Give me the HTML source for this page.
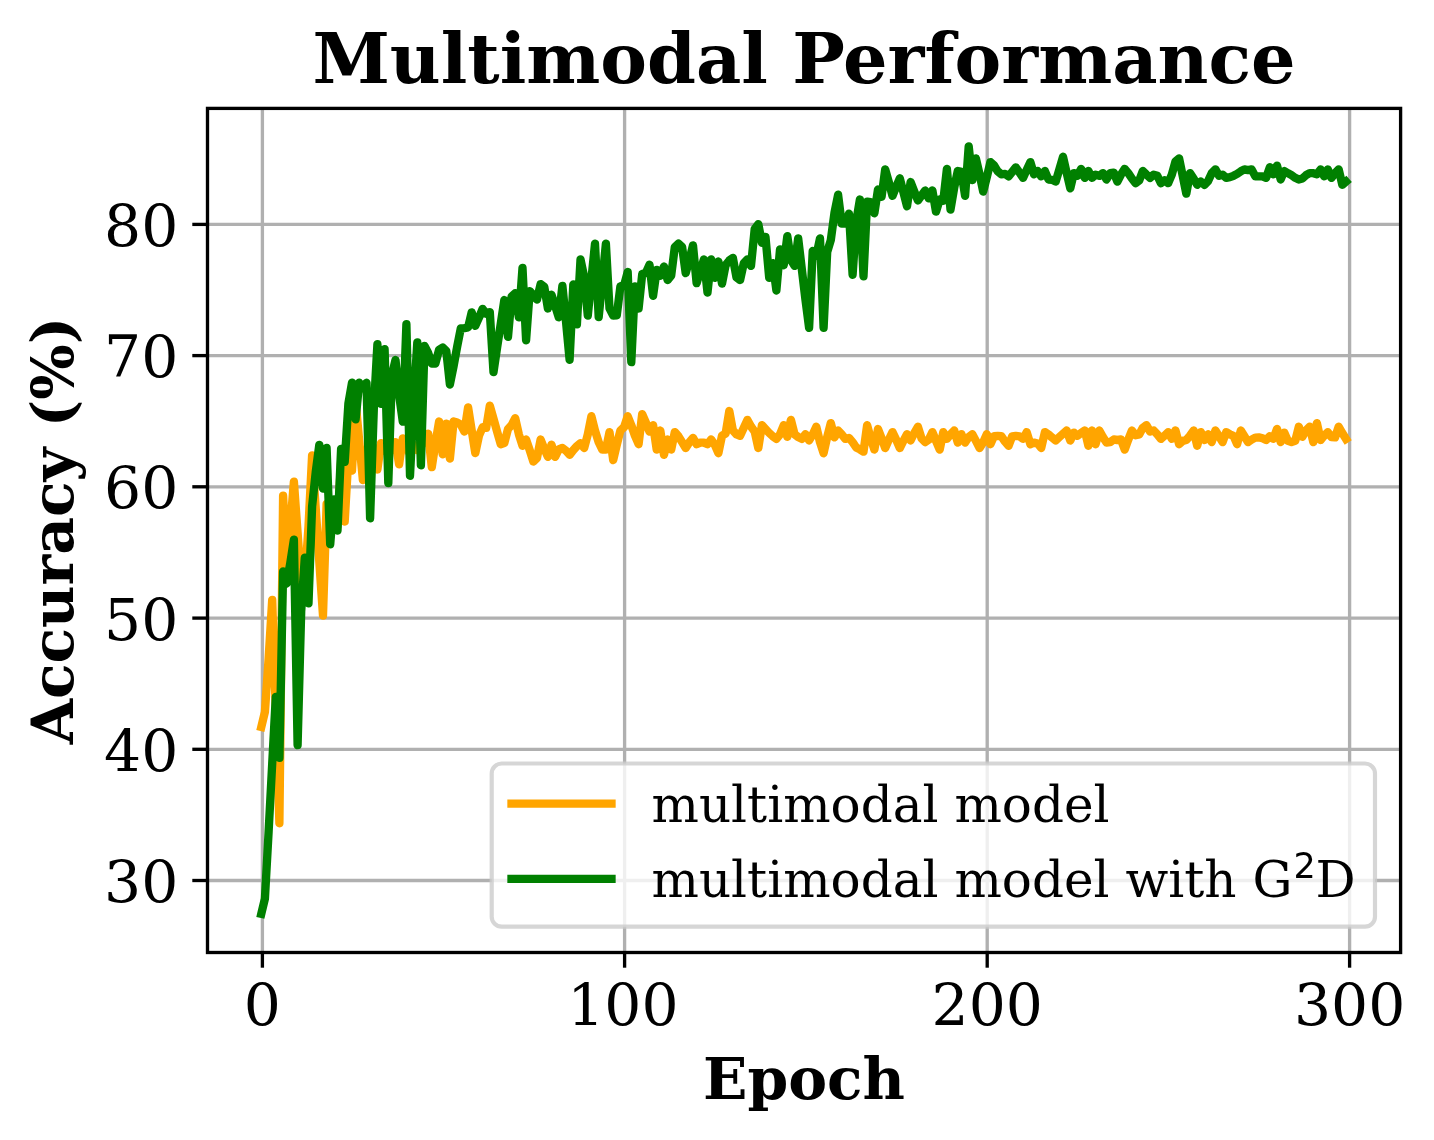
<!DOCTYPE html>
<html lang="en"><head><meta charset="utf-8"><title>Multimodal Performance</title>
<style>html,body{margin:0;padding:0;background:#fff}svg{display:block}text{font-family:"DejaVu Serif","Liberation Serif",serif;fill:#000}</style></head><body>
<svg width="1434" height="1140" viewBox="0 0 1434 1140">
<rect width="1434" height="1140" fill="#fff"/>
<g stroke="#b0b0b0" stroke-width="3.33"><line x1="262.4" x2="262.4" y1="108.4" y2="952.5"/><line x1="624.6" x2="624.6" y1="108.4" y2="952.5"/><line x1="987.2" x2="987.2" y1="108.4" y2="952.5"/><line x1="1349.6" x2="1349.6" y1="108.4" y2="952.5"/><line x1="207.5" x2="1400.6" y1="880.5" y2="880.5"/><line x1="207.5" x2="1400.6" y1="749.3" y2="749.3"/><line x1="207.5" x2="1400.6" y1="618.1" y2="618.1"/><line x1="207.5" x2="1400.6" y1="486.8" y2="486.8"/><line x1="207.5" x2="1400.6" y1="355.6" y2="355.6"/><line x1="207.5" x2="1400.6" y1="224.4" y2="224.4"/></g>
<g stroke="#000" stroke-width="3.33"><line x1="262.4" x2="262.4" y1="952.5" y2="967.7"/><line x1="624.6" x2="624.6" y1="952.5" y2="967.7"/><line x1="987.2" x2="987.2" y1="952.5" y2="967.7"/><line x1="1349.6" x2="1349.6" y1="952.5" y2="967.7"/><line x1="192.3" x2="207.5" y1="880.5" y2="880.5"/><line x1="192.3" x2="207.5" y1="749.3" y2="749.3"/><line x1="192.3" x2="207.5" y1="618.1" y2="618.1"/><line x1="192.3" x2="207.5" y1="486.8" y2="486.8"/><line x1="192.3" x2="207.5" y1="355.6" y2="355.6"/><line x1="192.3" x2="207.5" y1="224.4" y2="224.4"/></g>
<clipPath id="c"><rect x="207.5" y="108.4" width="1193.1" height="844.1"/></clipPath>
<g clip-path="url(#c)" fill="none" stroke-linejoin="round" stroke-linecap="square" stroke-width="8.33">
<path stroke="#ffa500" d="M261.3 727.0 L264.9 712.1 L268.6 658.7 L272.2 599.8 L275.8 711.2 L279.4 823.3 L283.1 495.6 L286.7 565.6 L290.3 526.2 L293.9 481.6 L297.6 532.8 L301.2 583.9 L304.8 581.3 L308.5 526.2 L312.1 455.3 L315.7 507.8 L319.3 561.6 L323.0 615.7 L326.6 503.9 L330.2 526.2 L333.9 513.1 L337.5 526.2 L341.1 460.6 L344.7 521.6 L348.4 456.7 L352.0 470.6 L355.6 401.5 L359.2 440.9 L362.9 480.0 L366.5 450.1 L370.1 444.8 L373.8 447.5 L377.4 469.5 L381.0 443.1 L384.6 448.8 L388.3 454.0 L391.9 447.5 L395.5 442.1 L399.1 464.3 L402.8 438.4 L406.4 447.5 L410.0 454.0 L413.7 444.8 L417.3 450.1 L420.9 444.8 L424.5 442.2 L428.2 433.7 L431.8 467.2 L435.4 443.5 L439.1 421.5 L442.7 454.3 L446.3 423.6 L449.9 458.5 L453.6 421.5 L457.2 422.5 L460.8 424.6 L464.4 431.6 L468.1 407.3 L471.7 430.4 L475.3 453.2 L479.0 435.7 L482.6 427.3 L486.2 427.8 L489.8 405.7 L493.5 418.6 L497.1 431.7 L500.7 444.2 L504.3 443.1 L508.0 429.0 L511.6 425.2 L515.2 418.3 L518.9 434.4 L522.5 445.8 L526.1 439.5 L529.7 450.1 L533.4 461.6 L537.0 458.0 L540.6 439.5 L544.3 448.8 L547.9 456.9 L551.5 444.7 L555.1 456.9 L558.8 449.4 L562.4 447.9 L566.0 450.8 L569.6 454.8 L573.3 450.1 L576.9 446.2 L580.5 443.1 L584.2 448.0 L587.8 434.4 L591.4 416.2 L595.0 430.4 L598.7 442.2 L602.3 449.6 L605.9 449.6 L609.5 432.1 L613.2 460.1 L616.8 444.8 L620.4 430.5 L624.1 427.1 L627.7 416.2 L631.3 425.2 L634.9 435.7 L638.6 444.2 L642.2 414.1 L645.8 422.5 L649.5 431.6 L653.1 425.2 L656.7 449.6 L660.3 430.5 L664.0 454.8 L667.6 439.5 L671.2 449.6 L674.8 432.1 L678.5 436.3 L682.1 442.2 L685.7 448.0 L689.4 442.2 L693.0 437.9 L696.6 444.2 L700.2 442.6 L703.9 442.6 L707.5 444.2 L711.1 439.5 L714.8 444.8 L718.4 453.2 L722.0 435.7 L725.6 433.7 L729.3 411.0 L732.9 430.4 L736.5 434.4 L740.1 435.8 L743.8 427.8 L747.4 419.9 L751.0 426.5 L754.7 431.7 L758.3 448.0 L761.9 425.2 L765.5 429.1 L769.2 433.0 L772.8 436.3 L776.4 438.9 L780.0 434.4 L783.7 425.2 L787.3 436.8 L790.9 419.9 L794.6 434.4 L798.2 437.0 L801.8 438.9 L805.4 434.2 L809.1 440.5 L812.7 434.4 L816.3 426.7 L820.0 442.2 L823.6 453.2 L827.2 437.0 L830.8 423.1 L834.5 437.4 L838.1 430.5 L841.7 434.4 L845.3 438.9 L849.0 437.9 L852.6 442.2 L856.2 447.5 L859.9 449.4 L863.5 451.7 L867.1 425.2 L870.7 438.3 L874.4 449.6 L878.0 429.0 L881.6 438.3 L885.2 448.0 L888.9 439.6 L892.5 432.1 L896.1 439.6 L899.8 448.0 L903.4 440.9 L907.0 434.2 L910.6 440.5 L914.3 433.0 L917.9 426.7 L921.5 438.3 L925.2 442.1 L928.8 439.6 L932.4 432.1 L936.0 440.9 L939.7 449.6 L943.3 432.1 L946.9 438.9 L950.5 434.4 L954.2 430.5 L957.8 442.6 L961.4 434.2 L965.1 442.6 L968.7 437.0 L972.3 434.2 L975.9 440.9 L979.6 448.0 L983.2 442.2 L986.8 434.2 L990.4 444.2 L994.1 436.1 L997.7 435.8 L1001.3 436.1 L1005.0 441.6 L1008.6 445.8 L1012.2 436.3 L1015.8 435.8 L1019.5 436.3 L1023.1 438.9 L1026.7 432.1 L1030.4 444.2 L1034.0 442.6 L1037.6 443.5 L1041.2 448.0 L1044.9 432.1 L1048.5 434.4 L1052.1 437.6 L1055.7 440.5 L1059.4 437.0 L1063.0 433.7 L1066.6 430.5 L1070.3 440.5 L1073.9 432.6 L1077.5 435.8 L1081.1 433.0 L1084.8 430.5 L1088.4 445.8 L1092.0 430.5 L1095.6 444.2 L1099.3 430.5 L1102.9 437.0 L1106.5 442.6 L1110.2 442.2 L1113.8 439.5 L1117.4 440.0 L1121.0 439.5 L1124.7 449.6 L1128.3 439.6 L1131.9 430.5 L1135.6 435.3 L1139.2 434.4 L1142.8 427.8 L1146.4 425.2 L1150.1 431.6 L1153.7 430.5 L1157.3 434.4 L1160.9 438.9 L1164.6 435.7 L1168.2 432.1 L1171.8 438.9 L1175.5 430.5 L1179.1 444.2 L1182.7 440.9 L1186.3 440.0 L1190.0 435.7 L1193.6 430.5 L1197.2 445.8 L1200.8 432.1 L1204.5 440.0 L1208.1 434.2 L1211.7 442.1 L1215.4 430.5 L1219.0 436.3 L1222.6 442.1 L1226.2 432.1 L1229.9 434.4 L1233.5 435.8 L1237.1 444.2 L1240.8 430.5 L1244.4 436.3 L1248.0 442.1 L1251.6 439.6 L1255.3 437.6 L1258.9 437.4 L1262.5 438.3 L1266.1 440.0 L1269.8 436.3 L1273.4 438.9 L1277.0 429.0 L1280.7 442.1 L1284.3 432.6 L1287.9 440.9 L1291.5 442.1 L1295.2 440.9 L1298.8 426.7 L1302.4 436.8 L1306.0 430.4 L1309.7 426.7 L1313.3 442.1 L1316.9 423.1 L1320.6 440.0 L1324.2 435.7 L1327.8 432.1 L1331.4 437.0 L1335.1 437.4 L1338.7 426.7 L1342.3 433.0 L1346.0 438.9"/>
<path stroke="#008000" d="M261.3 913.8 L264.9 898.7 L268.6 831.9 L272.2 763.7 L275.8 696.8 L279.4 757.9 L283.1 571.5 L286.7 583.5 L290.3 562.9 L293.9 539.7 L297.6 745.2 L301.2 611.5 L304.8 557.7 L308.5 603.4 L312.1 506.5 L315.7 472.4 L319.3 444.8 L323.0 488.5 L326.6 447.9 L330.2 544.3 L333.9 499.3 L337.5 530.5 L341.1 448.8 L344.7 461.9 L348.4 403.5 L352.0 382.7 L355.6 419.4 L359.2 382.7 L362.9 388.4 L366.5 382.7 L370.1 518.3 L373.8 409.4 L377.4 344.2 L381.0 403.8 L384.6 349.2 L388.3 483.2 L391.9 375.3 L395.5 360.0 L399.1 395.0 L402.8 421.6 L406.4 324.1 L410.0 475.8 L413.7 401.5 L417.3 342.4 L420.9 465.3 L424.5 345.8 L428.2 353.0 L431.8 363.5 L435.4 363.5 L439.1 349.7 L442.7 347.5 L446.3 351.0 L449.9 384.5 L453.6 366.1 L457.2 346.4 L460.8 328.3 L464.4 328.1 L468.1 327.4 L471.7 312.3 L475.3 325.8 L479.0 317.6 L482.6 308.9 L486.2 313.8 L489.8 312.1 L493.5 372.2 L497.1 347.7 L500.7 324.1 L504.3 300.0 L508.0 336.9 L511.6 296.6 L515.2 293.2 L518.9 317.4 L522.5 267.8 L526.1 340.3 L529.7 291.1 L533.4 295.3 L537.0 299.5 L540.6 284.1 L544.3 286.9 L547.9 308.5 L551.5 294.7 L555.1 305.8 L558.8 317.4 L562.4 285.8 L566.0 321.5 L569.6 359.8 L573.3 284.5 L576.9 324.4 L580.5 259.4 L584.2 276.9 L587.8 315.6 L591.4 279.5 L595.0 243.7 L598.7 317.2 L602.3 280.8 L605.9 243.7 L609.5 308.4 L613.2 315.6 L616.8 315.3 L620.4 286.3 L624.1 285.4 L627.7 272.0 L631.3 362.2 L634.9 286.3 L638.6 308.5 L642.2 274.1 L645.8 273.0 L649.5 264.7 L653.1 295.8 L656.7 269.9 L660.3 275.8 L664.0 266.5 L667.6 280.0 L671.2 275.6 L674.8 247.0 L678.5 243.7 L682.1 246.8 L685.7 273.2 L689.4 259.8 L693.0 245.3 L696.6 283.2 L700.2 271.6 L703.9 259.4 L707.5 292.6 L711.1 259.4 L714.8 277.9 L718.4 261.5 L722.0 283.7 L725.6 265.1 L729.3 260.5 L732.9 257.9 L736.5 277.4 L740.1 280.0 L743.8 263.1 L747.4 259.4 L751.0 265.9 L754.7 229.0 L758.3 224.1 L761.9 242.8 L765.5 236.9 L769.2 277.9 L772.8 263.1 L776.4 290.5 L780.0 249.5 L783.7 265.3 L787.3 236.2 L790.9 259.8 L794.6 265.9 L798.2 238.4 L801.8 269.0 L805.4 299.2 L809.1 327.9 L812.7 251.0 L816.3 255.9 L820.0 238.4 L823.6 327.9 L827.2 252.0 L830.8 240.1 L834.5 212.6 L838.1 194.7 L841.7 223.6 L845.3 223.6 L849.0 213.6 L852.6 274.8 L856.2 221.8 L859.9 199.5 L863.5 276.4 L867.1 201.6 L870.7 202.1 L874.4 213.2 L878.0 189.5 L881.6 196.8 L885.2 169.4 L888.9 182.4 L892.5 195.8 L896.1 187.0 L899.8 178.3 L903.4 192.3 L907.0 206.3 L910.6 182.0 L914.3 191.6 L917.9 200.5 L921.5 195.5 L925.2 190.5 L928.8 198.4 L932.4 190.5 L936.0 211.7 L939.7 199.5 L943.3 200.8 L946.9 168.9 L950.5 209.6 L954.2 187.7 L957.8 171.0 L961.4 171.9 L965.1 195.8 L968.7 146.3 L972.3 180.0 L975.9 158.4 L979.6 174.5 L983.2 191.6 L986.8 177.2 L990.4 162.1 L994.1 165.4 L997.7 171.3 L1001.3 174.3 L1005.0 173.9 L1008.6 176.4 L1012.2 171.9 L1015.8 167.3 L1019.5 172.6 L1023.1 177.9 L1026.7 169.9 L1030.4 162.1 L1034.0 174.3 L1037.6 171.0 L1041.2 176.4 L1044.9 171.0 L1048.5 179.5 L1052.1 179.8 L1055.7 181.6 L1059.4 169.3 L1063.0 156.8 L1066.6 172.6 L1070.3 188.4 L1073.9 173.1 L1077.5 175.8 L1081.1 168.9 L1084.8 177.9 L1088.4 171.0 L1092.0 177.9 L1095.6 174.7 L1099.3 175.8 L1102.9 173.1 L1106.5 179.5 L1110.2 173.2 L1113.8 172.6 L1117.4 181.6 L1121.0 174.5 L1124.7 168.9 L1128.3 173.2 L1131.9 178.5 L1135.6 183.2 L1139.2 180.4 L1142.8 171.0 L1146.4 174.5 L1150.1 177.9 L1153.7 174.7 L1157.3 175.8 L1160.9 183.2 L1164.6 180.4 L1168.2 183.2 L1171.8 174.7 L1175.5 161.4 L1179.1 158.4 L1182.7 175.8 L1186.3 193.7 L1190.0 173.1 L1193.6 178.5 L1197.2 184.8 L1200.8 181.5 L1204.5 184.8 L1208.1 181.1 L1211.7 173.2 L1215.4 169.3 L1219.0 175.8 L1222.6 174.7 L1226.2 177.9 L1229.9 177.2 L1233.5 175.8 L1237.1 173.9 L1240.8 171.3 L1244.4 169.4 L1248.0 170.1 L1251.6 169.4 L1255.3 176.4 L1258.9 176.4 L1262.5 176.4 L1266.1 177.9 L1269.8 167.3 L1273.4 174.3 L1277.0 165.7 L1280.7 179.5 L1284.3 171.0 L1287.9 173.2 L1291.5 175.2 L1295.2 177.8 L1298.8 179.5 L1302.4 178.5 L1306.0 175.2 L1309.7 173.1 L1313.3 173.2 L1316.9 174.3 L1320.6 169.4 L1324.2 176.4 L1327.8 169.4 L1331.4 177.9 L1335.1 173.2 L1338.7 169.4 L1342.3 184.8 L1346.0 181.6"/>
</g>
<rect x="207.5" y="108.4" width="1193.1" height="844.1" fill="none" stroke="#000" stroke-width="3.33"/>
<text x="262.4" y="1024.6" font-size="58.33" text-anchor="middle">0</text>
<text x="622.9" y="1024.6" font-size="58.33" text-anchor="middle">100</text>
<text x="987.2" y="1024.6" font-size="58.33" text-anchor="middle">200</text>
<text x="1349.6" y="1024.6" font-size="58.33" text-anchor="middle">300</text>
<text x="178.3" y="902.0" font-size="58.33" text-anchor="end">30</text>
<text x="178.3" y="770.8" font-size="58.33" text-anchor="end">40</text>
<text x="178.3" y="639.6" font-size="58.33" text-anchor="end">50</text>
<text x="178.3" y="508.3" font-size="58.33" text-anchor="end">60</text>
<text x="178.3" y="377.1" font-size="58.33" text-anchor="end">70</text>
<text x="178.3" y="245.9" font-size="58.33" text-anchor="end">80</text>
<text x="804.0" y="83.0" font-size="70" font-weight="bold" text-anchor="middle">Multimodal Performance</text>
<text x="804.0" y="1098.5" font-size="58.33" font-weight="bold" text-anchor="middle">Epoch</text>
<text transform="translate(73 530.5) rotate(-90)" font-size="58.33" font-weight="bold" text-anchor="middle">Accuracy (%)</text>
<rect x="491.7" y="763.5" width="883.3" height="163.2" rx="10" ry="10" fill="#fff" fill-opacity="0.8" stroke="#ccc" stroke-opacity="0.8" stroke-width="4.17"/>
<line x1="511.5" x2="611.5" y1="803.6" y2="803.6" stroke="#ffa500" stroke-width="8.33" stroke-linecap="square"/>
<line x1="511.5" x2="611.5" y1="878.8" y2="878.8" stroke="#008000" stroke-width="8.33" stroke-linecap="square"/>
<text x="651.5" y="822.0" font-size="50">multimodal model</text>
<text x="651.5" y="896.8" font-size="50">multimodal model with G<tspan dx="1.2" dy="-19.3" font-size="35" font-family="DejaVu Sans,Liberation Sans,sans-serif">2</tspan><tspan dx="-0.2" dy="19.3">D</tspan></text>
</svg></body></html>
